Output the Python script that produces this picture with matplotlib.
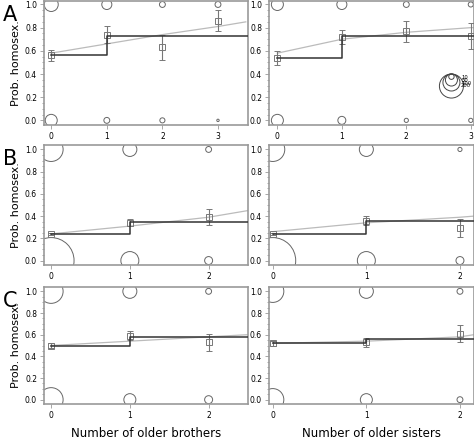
import numpy as np
import matplotlib.pyplot as plt
import matplotlib.transforms as mtransforms

# circle counts: [x, n at y=1, n at y=0]
counts = {
    'A0': ([0, 1, 2, 3], [68, 35, 12, 12], [50, 12, 9, 2]),
    'A1': ([0, 1, 2, 3], [50, 35, 12, 9], [50, 22, 6, 6]),
    'B0': ([0, 1, 2], [200, 68, 12], [730, 112, 22]),
    'B1': ([0, 1, 2], [200, 68, 6], [730, 112, 22]),
    'C0': ([0, 1, 2], [200, 68, 12], [200, 50, 22]),
    'C1': ([0, 1, 2], [170, 68, 12], [170, 50, 12]),
}
# observed proportion and error half-width
means = {
    'A0': ([0.56, 0.74, 0.63, 0.86], [0.05, 0.07, 0.11, 0.09]),
    'A1': ([0.54, 0.72, 0.77, 0.73], [0.06, 0.06, 0.09, 0.11]),
    'B0': ([0.24, 0.34, 0.39], [0.01, 0.03, 0.07]),
    'B1': ([0.24, 0.36, 0.29], [0.01, 0.04, 0.08]),
    'C0': ([0.50, 0.59, 0.53], [0.02, 0.04, 0.08]),
    'C1': ([0.52, 0.53, 0.61], [0.02, 0.04, 0.08]),
}
# step model: level at 0, level at >=1
steps = {'A0': (0.56, 0.73), 'A1': (0.54, 0.73), 'B0': (0.24, 0.35),
         'B1': (0.24, 0.36), 'C0': (0.50, 0.58), 'C1': (0.52, 0.56)}
# grey fitted curve points
fit_x = {'A0': [0, 1, 2, 3, 3.5], 'A1': [0, 1, 2, 3, 3.05],
         'B0': [0, 1, 2, 2.5], 'B1': [0, 1, 2, 2.15],
         'C0': [0, 1, 2, 2.5], 'C1': [0, 1, 2, 2.15]}
fit_y = {'A0': [0.58, 0.66, 0.74, 0.81, 0.85], 'A1': [0.58, 0.70, 0.76, 0.80, 0.80],
         'B0': [0.24, 0.31, 0.39, 0.45], 'B1': [0.26, 0.34, 0.39, 0.40],
         'C0': [0.50, 0.54, 0.58, 0.60], 'C1': [0.52, 0.54, 0.58, 0.60]}
xlims = {'A0': (-0.13, 3.54), 'A1': (-0.13, 3.05), 'B0': (-0.09, 2.5),
         'B1': (-0.04, 2.15), 'C0': (-0.09, 2.5), 'C1': (-0.04, 2.15)}
legend_n = [10, 50, 100, 200]

W, H = 474, 440
fig = plt.figure(figsize=(W / 100, H / 100), dpi=100)
rows = {'A': (1, 125), 'B': (145, 265), 'C': (287, 404)}
cols = [(44, 248), (269, 474)]


def rad_pt(n):
    return 0.85 * np.sqrt(n) * 72 / 100


frame = '#999999'
for r, (top, bot) in rows.items():
    for c, (l, rr) in enumerate(cols):
        key = r + str(c)
        ax = fig.add_axes([l / W, 1 - bot / H, (rr - l) / W, (bot - top) / H])
        xs, n1, n0 = counts[key]
        for y, ns in ((1.0, n1), (0.0, n0)):
            s = [(2 * rad_pt(n)) ** 2 for n in ns]
            ax.scatter(xs, [y] * len(xs), s=s, facecolors='none',
                       edgecolors='#666666', linewidths=0.7, clip_on=True, zorder=2)
        m, e = means[key]
        ax.errorbar(xs, m, yerr=e, fmt='s', ms=4, mfc='none', mec='#777777',
                    ecolor='#777777', elinewidth=0.8, capsize=2, mew=0.7, zorder=3)
        ax.plot(fit_x[key], fit_y[key], color='#bbbbbb', lw=0.9, zorder=2)
        s0, s1 = steps[key]
        ax.plot([0, 1, 1, xlims[key][1]], [s0, s0, s1, s1], color='#333333', lw=1.1, zorder=4)
        ax.set_xlim(*xlims[key])
        ax.set_ylim(-0.04, 1.03 if r == 'A' else 1.04)
        ax.set_xticks(xs)
        ax.set_yticks(np.arange(0, 1.01, 0.2))
        ax.set_yticklabels(['0.0', '0.2', '0.4', '0.6', '0.8', '1.0'])
        ax.set_yticks(np.arange(0, 1.01, 0.05), minor=True)
        ax.tick_params(labelsize=5.5, color=frame, length=3, width=0.6, pad=2)
        ax.tick_params(which='minor', length=1.5, color=frame)
        for sp in ax.spines.values():
            sp.set_color(frame)
            sp.set_linewidth(1.2)
        if c == 0:
            ax.set_ylabel('Prob. homosex.', fontsize=8, labelpad=3)
            fig.text(3 / W, 1 - (top + 14) / H, r, fontsize=15, va='center')
        if r == 'C':
            ax.set_xlabel(['Number of older brothers', 'Number of older sisters'][c],
                          fontsize=8.5, labelpad=5)
        if key == 'A1':
            for n in legend_n:
                rp = rad_pt(n)
                tr = mtransforms.offset_copy(ax.transData, fig=fig, y=-rp, units='points')
                ax.scatter([2.7], [0.4], s=(2 * rp) ** 2, facecolors='none',
                           edgecolors='#444444', linewidths=0.7, transform=tr)
            for i, n in enumerate(legend_n):
                ax.text(2.85, 0.37 - i * 0.024, str(n), fontsize=3.8, va='center')

fig.savefig('out.png', dpi=100)
